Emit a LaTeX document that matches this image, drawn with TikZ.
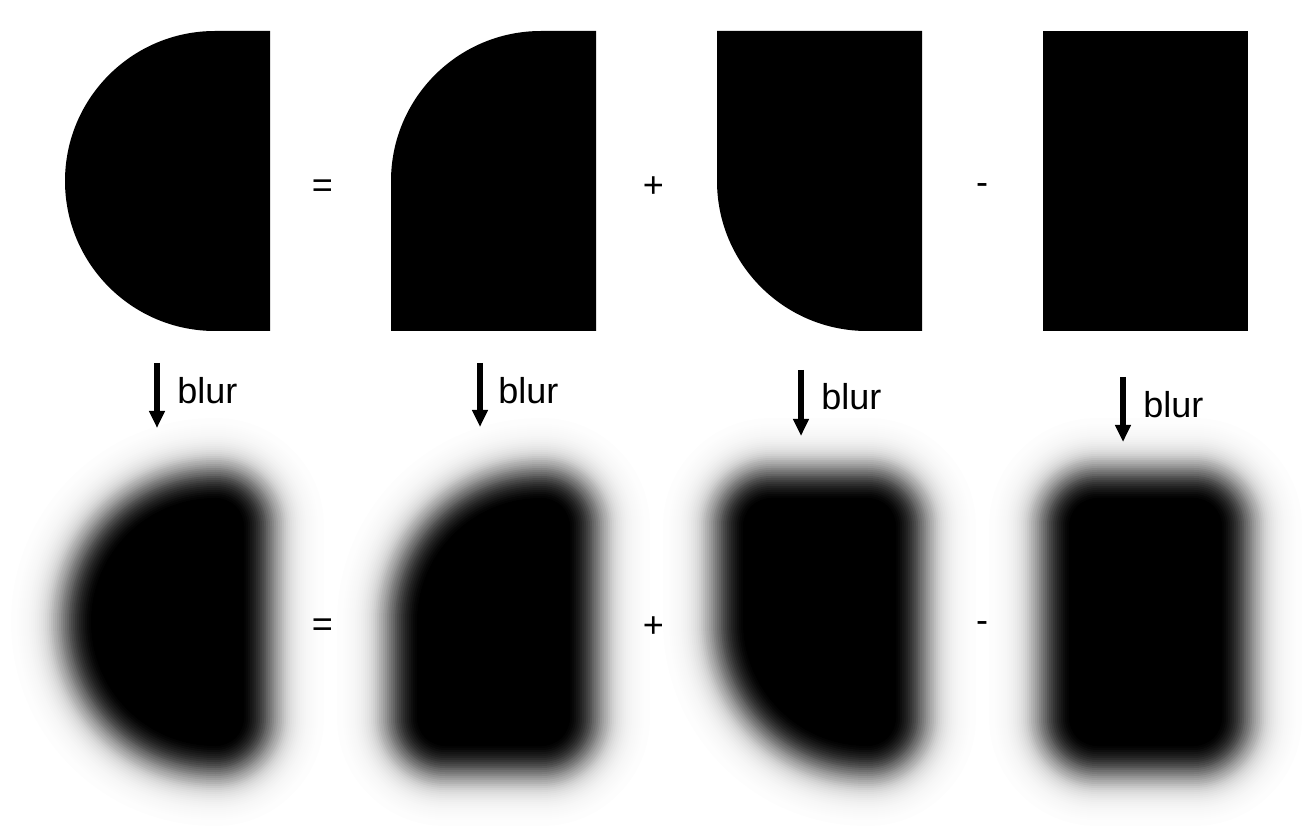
\documentclass[tikz,border=0pt]{standalone}
\usepackage{fontspec}
\setmainfont{Liberation Sans}
\usetikzlibrary{arrows.meta}
\tikzset{
  blurarrow/.style={line width=2.75pt, -{Triangle[width=7.5pt,length=8.5pt]}},
  blurlabel/.style={anchor=base west, inner sep=0pt, font=\fontsize{18}{20}\selectfont},
  opsym/.style={anchor=base, inner sep=0pt, font=\fontsize{18}{20}\selectfont},
  solidshape/.style={fill=black},
}
% #1 x0, #2 y0 (bottom), #3 x1, #4 y1 (top), #5 top-left round (1/0), #6 bottom-left round (1/0)
% blur sigma 18px, core inset 54px, 54 layers of 2px
\newcommand\blurshape[6]{%
  \foreach \m in {1,...,54}{%
    \pgfmathsetmacro\uu{\m*2}%
    \pgfmathsetmacro\Ba{1/(1+exp(-1.702*(\uu-55)/18))}%
    \pgfmathsetmacro\Bb{(\m==54) ? 1 : 1/(1+exp(-1.702*(\uu-53)/18))}%
    \pgfmathsetmacro\al{max(0,1-\Ba/\Bb)}%
    \pgfmathsetmacro\xa{#1+54-\uu}%
    \pgfmathsetmacro\ya{#2+54-\uu}%
    \pgfmathsetmacro\xb{#3-54+\uu}%
    \pgfmathsetmacro\yb{#4-54+\uu}%
    \pgfmathsetmacro\rtl{(#5==1) ? 96+\uu : \uu}%
    \pgfmathsetmacro\rbl{(#6==1) ? 96+\uu : \uu}%
    \fill[opacity=\al]
      (\xa,{\yb-\rtl}) arc[start angle=180,end angle=90,radius={\rtl*0.5pt}]
      -- ({\xb-\uu},\yb) arc[start angle=90,end angle=0,radius={\uu*0.5pt}]
      -- (\xb,{\ya+\uu}) arc[start angle=0,end angle=-90,radius={\uu*0.5pt}]
      -- ({\xa+\rbl},\ya) arc[start angle=270,end angle=180,radius={\rbl*0.5pt}]
      -- cycle;
  }%
}
\begin{document}
\begin{tikzpicture}[x=0.5pt,y=0.5pt]
\useasboundingbox (0,0) rectangle (1308,826);
\fill[white] (0,0) rectangle (1308,826);

% top row: sharp shapes
\fill[solidshape] (270,495) -- (270,795) -- (215,795) arc[start angle=90,end angle=270,radius=75pt] -- cycle;
\fill[solidshape] (596,495) -- (596,795) -- (541,795) arc[start angle=90,end angle=180,radius=75pt] -- (391,495) -- cycle;
\fill[solidshape] (922,495) -- (922,795) -- (717,795) -- (717,645) arc[start angle=180,end angle=270,radius=75pt] -- cycle;
\fill[solidshape] (1043,495) rectangle (1248,795);

\node[opsym] (eqtop) at (322.5,628) {=};
\node[opsym] (plustop) at (653.5,628.5) {+};
\node[opsym] (minustop) at (982,631) {-};

% arrows
\coordinate (a1s) at (157,463); \coordinate (a1e) at (157,398);
\coordinate (a2s) at (480,463); \coordinate (a2e) at (480,399);
\coordinate (a3s) at (801,456); \coordinate (a3e) at (801,390);
\coordinate (a4s) at (1123,449); \coordinate (a4e) at (1123,384);
\draw[blurarrow] (a1s) -- (a1e);
\draw[blurarrow] (a2s) -- (a2e);
\draw[blurarrow] (a3s) -- (a3e);
\draw[blurarrow] (a4s) -- (a4e);
\node[blurlabel] (lbl1) at (177,422) {blur};
\node[blurlabel] (lbl2) at (498,422) {blur};
\node[blurlabel] (lbl3) at (821,416) {blur};
\node[blurlabel] (lbl4) at (1143,408) {blur};

% bottom row: blurred shapes
\blurshape{65}{54}{270}{354}{1}{1}
\blurshape{391}{54}{596}{354}{1}{0}
\blurshape{717}{54}{922}{354}{0}{1}
\blurshape{1043}{54}{1248}{354}{0}{0}

\node[opsym] (eqbot) at (322.5,189.5) {=};
\node[opsym] (plusbot) at (653.5,188.5) {+};
\node[opsym] (minusbot) at (982,193) {-};
\end{tikzpicture}
\end{document}
